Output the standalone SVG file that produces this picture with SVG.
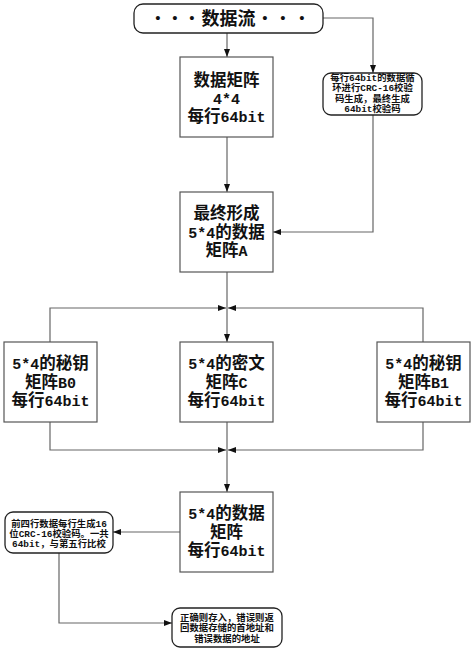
<svg xmlns="http://www.w3.org/2000/svg" width="474" height="651" viewBox="0 0 474 651">
<defs>
<marker id="ah" viewBox="0 0 8 6" refX="8" refY="3" markerWidth="8" markerHeight="6" markerUnits="userSpaceOnUse" orient="auto">
<path d="M0,0 L8,3 L0,6 z" fill="#111"/>
</marker>
</defs>
<style>
.box{fill:#fff;stroke:#555;stroke-width:1.2}
.rbox{fill:#fff;stroke:#222;stroke-width:1.3}
.con{fill:none;stroke:#666;stroke-width:1.2;marker-end:url(#ah)}
.big{font-family:"Liberation Mono","Noto Sans CJK SC",monospace;font-size:15px;font-weight:bold;fill:#111;text-anchor:middle}
.z{font-family:"Noto Sans CJK SC",sans-serif;font-size:16.5px}
.sm{font-family:"Liberation Mono","Noto Sans CJK SC",monospace;font-size:9.4px;font-weight:bold;fill:#111;text-anchor:middle}
.title{font-family:"Noto Sans CJK SC",sans-serif;font-size:18px;font-weight:bold;fill:#111;text-anchor:middle}
.dot{font-family:"Liberation Sans",sans-serif;font-size:15px;fill:#111;text-anchor:middle}
</style>
<rect width="474" height="651" fill="#fff"/>
<g id="connectors">
<path class="con" d="M227,33 V57"/>
<path class="con" d="M323,18 H373 V73"/>
<path class="con" d="M227,137 V192"/>
<path class="con" d="M373,115 V232 H273"/>
<path class="con" d="M227,272 V342"/>
<path class="con" d="M50,342 V308 H226"/>
<path class="con" d="M423,342 V308 H228"/>
<path class="con" d="M227,422 V492"/>
<path class="con" d="M50,422 V450 H226"/>
<path class="con" d="M423,422 V450 H228"/>
<path class="con" d="M180,532 H113"/>
<path class="con" d="M59,553 V623 H172"/>
</g>
<g id="stream">
<rect class="rbox" x="134" y="4" width="189" height="29" rx="9"/>
<text class="dot" x="158" y="23">•</text>
<text class="dot" x="175" y="23">•</text>
<text class="dot" x="192" y="23">•</text>
<text class="dot" x="265" y="23">•</text>
<text class="dot" x="283" y="23">•</text>
<text class="dot" x="302" y="23">•</text>
<text class="title" x="228.5" y="24.5">数据流</text>
</g>
<g id="matrix44">
<rect class="box" x="180" y="57" width="93" height="80"/>
<text class="big z" x="226.5" y="86">数据矩阵</text>
<text class="big" x="226.5" y="104">4*4</text>
<text class="big" x="226.5" y="122"><tspan class="z">每行</tspan>64bit</text>
</g>
<g id="crc-gen">
<rect class="rbox" x="323" y="73" width="99" height="42" rx="8"/>
<text class="sm" x="372.5" y="80.5">每行64bit的数据循</text>
<text class="sm" x="372.5" y="91">环进行CRC-16校验</text>
<text class="sm" x="372.5" y="101.5">码生成，最终生成</text>
<text class="sm" x="372.5" y="112">64bit校验码</text>
</g>
<g id="matrixA">
<rect class="box" x="180" y="192" width="93" height="80"/>
<text class="big z" x="226.5" y="219">最终形成</text>
<text class="big" x="226.5" y="238">5*4<tspan class="z">的数据</tspan></text>
<text class="big" x="226.5" y="256"><tspan class="z">矩阵</tspan>A</text>
</g>
<g id="keyB0">
<rect class="box" x="4" y="342" width="93" height="80"/>
<text class="big" x="50.5" y="369">5*4<tspan class="z">的秘钥</tspan></text>
<text class="big" x="50.5" y="388"><tspan class="z">矩阵</tspan>B0</text>
<text class="big" x="50.5" y="406"><tspan class="z">每行</tspan>64bit</text>
</g>
<g id="cipherC">
<rect class="box" x="180" y="342" width="93" height="80"/>
<text class="big" x="226.5" y="369">5*4<tspan class="z">的密文</tspan></text>
<text class="big" x="226.5" y="388"><tspan class="z">矩阵</tspan>C</text>
<text class="big" x="226.5" y="406"><tspan class="z">每行</tspan>64bit</text>
</g>
<g id="keyB1">
<rect class="box" x="377" y="342" width="93" height="80"/>
<text class="big" x="423.5" y="369">5*4<tspan class="z">的秘钥</tspan></text>
<text class="big" x="423.5" y="388"><tspan class="z">矩阵</tspan>B1</text>
<text class="big" x="423.5" y="406"><tspan class="z">每行</tspan>64bit</text>
</g>
<g id="matrixD">
<rect class="box" x="180" y="492" width="93" height="80"/>
<text class="big" x="226.5" y="519">5*4<tspan class="z">的数据</tspan></text>
<text class="big z" x="226.5" y="538">矩阵</text>
<text class="big" x="226.5" y="556"><tspan class="z">每行</tspan>64bit</text>
</g>
<g id="crc-check">
<rect class="rbox" x="5" y="512" width="108" height="41" rx="8"/>
<text class="sm" x="59" y="526.5">前四行数据每行生成16</text>
<text class="sm" x="59" y="536.5">位CRC-16校验码。一共</text>
<text class="sm" x="59" y="546.5">64bit，与第五行比校</text>
</g>
<g id="result">
<rect class="rbox" x="172" y="608" width="110" height="39" rx="8"/>
<text class="sm" x="227" y="620.5">正确则存入，错误则返</text>
<text class="sm" x="227" y="631">回数据存储的首地址和</text>
<text class="sm" x="227" y="641.5">错误数据的地址</text>
</g>
</svg>
